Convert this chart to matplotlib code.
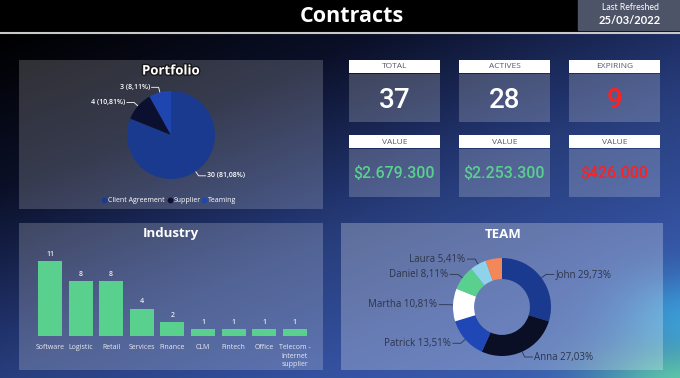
import numpy as np
import matplotlib.pyplot as plt
import matplotlib.patheffects as pe
from matplotlib.patches import Rectangle
from matplotlib.colors import to_rgb

W, H = 680, 378

# data
portfolio_labels = ['Client Agreement', 'Supplier', 'Teaming']
portfolio_values = [30, 4, 3]
portfolio_colors = ['#1a3a8f', '#0b1030', '#1f46b0']

industry_names = ['Software', 'Logistic', 'Retail', 'Services', 'Finance', 'CLM',
                  'Fintech', 'Office', 'Telecom -\nInternet\nsupplier']
industry_values = [11, 8, 8, 4, 2, 1, 1, 1, 1]

team_names = ['John', 'Anna', 'Patrick', 'Martha', 'Daniel', 'Laura', '']
team_values = [11, 10, 5, 4, 3, 2, 2]
team_colors = ['#1a3a8f', '#0a0f25', '#1f47b5', '#ffffff', '#5ad08f', '#8fd3ea', '#f4875a']

kpi_titles = ['TOTAL', 'ACTIVES', 'EXPIRING']
kpi_counts = [37, 28, 9]
kpi_amounts = [2679300, 2253300, 426000]
kpi_colors = ['white', 'white', '#ff2020']
kpi_amount_colors = ['#5ad08f', '#5ad08f', '#ff2020']

refreshed = '25/03/2022'

GREEN = '#5ad08f'
FONT = 'Open Sans'

fig = plt.figure(figsize=(6.8, 3.78), dpi=100)

# background gradient
bg = fig.add_axes([0, 0, 1, 1])
xx, yy = np.meshgrid(np.arange(W), np.arange(H))
t = 0.45 * xx / W + 0.55 * np.clip((yy - 33) / (H - 33), 0, 1)
stops = [0.0, 0.25, 0.48, 0.55, 0.75, 0.9, 1.0]
cols = [to_rgb(c) for c in ['#000000', '#0b1028', '#21336c', '#283e7c',
                            '#34519f', '#3a5cae', '#3e64b6']]
img = np.zeros((H, W, 3))
for k in range(3):
    img[..., k] = np.interp(t, stops, [c[k] for c in cols])
blob1 = np.exp(-(((xx - 690) / 70.0) ** 2 + ((yy - 320) / 45.0) ** 2))
blob2 = np.exp(-(((xx - 690) / 90.0) ** 2 + ((yy - 385) / 40.0) ** 2))
img = img * (1 - blob1[..., None]) + np.array(to_rgb('#3a9ad6')) * blob1[..., None]
img = img * (1 - blob2[..., None]) + np.array(to_rgb('#5cc8a8')) * blob2[..., None]
img[:33] = 0
bg.imshow(img, extent=[0, W, H, 0], aspect='auto', interpolation='bilinear')
bg.set_xlim(0, W)
bg.set_ylim(H, 0)
bg.axis('off')

# header
bg.plot([0, W], [33, 33], color='#c8c8c8', lw=1.5)
bg.text(352, 17, 'Contracts', color='white', fontsize=15.5, fontweight='bold',
        family=FONT, ha='center', va='center')
bg.add_patch(Rectangle((578, 0), 102, 30, color='#4e5468'))
bg.text(630, 7, 'Last Refreshed', color='white', fontsize=6.3, family='Lato',
        ha='center', va='center')
bg.text(630, 20, refreshed, color='white', fontsize=8, family='Lato',
        fontweight='bold', ha='center', va='center')

# panels
bg.add_patch(Rectangle((19, 60), 304, 149, color='white', alpha=0.18, lw=0))
bg.add_patch(Rectangle((19, 223), 304, 147, color='white', alpha=0.2, lw=0))
bg.add_patch(Rectangle((341, 223), 322, 147, color='white', alpha=0.26, lw=0))

shadow = [pe.withStroke(linewidth=2, foreground='#1a1a1a')]
bg.text(171, 71, 'Portfolio', color='white', fontsize=9.5, fontweight='bold',
        family=FONT, ha='center', va='center', path_effects=shadow)
bg.text(171, 234, 'Industry', color='white', fontsize=9.5, fontweight='bold',
        family=FONT, ha='center', va='center')
bg.text(503, 234, 'TEAM', color='white', fontsize=9.5, fontweight='bold',
        family=FONT, ha='center', va='center')

# KPI cards
card_x = [349, 459, 569]
for i in range(3):
    x0 = card_x[i]
    for (hy, by, bh) in [(60, 74, 48), (135, 149, 48)]:
        bg.add_patch(Rectangle((x0, hy), 91, 13, color='white', lw=0))
        bg.add_patch(Rectangle((x0, by), 91, bh, color='white', alpha=0.2, lw=0))
    bg.text(x0 + 45.5, 67, kpi_titles[i], color='#555a6a', fontsize=6, family=FONT,
            ha='center', va='center')
    bg.text(x0 + 45.5, 142, 'VALUE', color='#555a6a', fontsize=6, family=FONT,
            ha='center', va='center')
    bg.text(x0 + 45.5, 101, str(kpi_counts[i]), color=kpi_colors[i], fontsize=20,
            family='Roboto', fontweight='medium', ha='center', va='center')
    amt = '${:,}'.format(kpi_amounts[i]).replace(',', '.')
    bg.text(x0 + 45.5, 173, amt, color=kpi_amount_colors[i], fontsize=11.5,
            family='Roboto', fontweight='medium', ha='center', va='center')


def px_axes(x0, y0, w, h):
    return fig.add_axes([x0 / W, 1 - (y0 + h) / H, w / W, h / H])


def pie_labels(ax, wedges, texts, fs, color, weight):
    for w, s in zip(wedges, texts):
        if not s:
            continue
        a = np.deg2rad((w.theta1 + w.theta2) / 2)
        c, sn = np.cos(a), np.sin(a)
        sign = 1 if c >= 0 else -1
        p1 = (1.12 * c, 1.12 * sn)
        p2 = (p1[0] + sign * 0.16, p1[1])
        ax.plot([c * 1.01, p1[0], p2[0]], [sn * 1.01, p1[1], p2[1]],
                color=color, lw=0.6, clip_on=False)
        ax.text(p2[0] + sign * 0.04, p2[1], s, color=color, fontsize=fs,
                fontweight=weight, family=FONT, ha='left' if sign > 0 else 'right',
                va='center', clip_on=False)


# Portfolio pie
R1 = 44.0
axp = px_axes(171 - 100, 135 - 100, 200, 200)
wedges, _ = axp.pie(portfolio_values, colors=portfolio_colors, startangle=90,
                    counterclock=False, radius=1)
axp.set_xlim(-100 / R1, 100 / R1)
axp.set_ylim(-100 / R1, 100 / R1)
axp.set_aspect('equal')
axp.axis('off')
tot = sum(portfolio_values)
ptexts = ['{} ({}%)'.format(v, '{:.2f}'.format(v / tot * 100).replace('.', ','))
          for v in portfolio_values]
pie_labels(axp, wedges, ptexts, 5, 'white', 'semibold')

# portfolio legend
lx = [104, 170, 204]
for i in range(3):
    bg.scatter(lx[i], 200, s=10, color=portfolio_colors[i], zorder=5)
    bg.text(lx[i] + 4, 200, portfolio_labels[i], color='white', fontsize=5,
            family=FONT, ha='left', va='center')

# Industry bars
pitch = 30.6
axb = px_axes(50 - pitch / 2, 336 - 12 * 6.82, pitch * 9, 12 * 6.82)
xs = np.arange(len(industry_values))
axb.bar(xs, industry_values, width=0.78, color=GREEN)
for x, v in zip(xs, industry_values):
    axb.text(x, v + 0.5, str(v), color='#e8e8f0', fontsize=5, family=FONT,
             fontweight='semibold', ha='center', va='bottom')
axb.set_xlim(-0.5, len(industry_values) - 0.5)
axb.set_ylim(0, 12)
axb.set_facecolor('none')
for s in axb.spines.values():
    s.set_visible(False)
axb.set_yticks([])
axb.set_xticks(xs)
axb.set_xticklabels(industry_names, fontsize=5, color='#e8e8f0', family=FONT,
                    linespacing=1.3)
axb.tick_params(axis='x', length=0, pad=6)

# TEAM donut
R2 = 49.0
axd = px_axes(502 - 120, 307 - 100, 240, 200)
wd, _ = axd.pie(team_values, colors=team_colors, startangle=90, counterclock=False,
                radius=1, wedgeprops=dict(width=0.43))
axd.set_xlim(-120 / R2, 120 / R2)
axd.set_ylim(-100 / R2, 100 / R2)
axd.set_aspect('equal')
axd.axis('off')
ttot = sum(team_values)
ttexts = [('{} {}%'.format(n, '{:.2f}'.format(v / ttot * 100).replace('.', ',')) if n else '')
          for n, v in zip(team_names, team_values)]
pie_labels(axd, wd, ttexts, 7, '#2e3448', 'normal')

fig.savefig('out.png', dpi=100)
